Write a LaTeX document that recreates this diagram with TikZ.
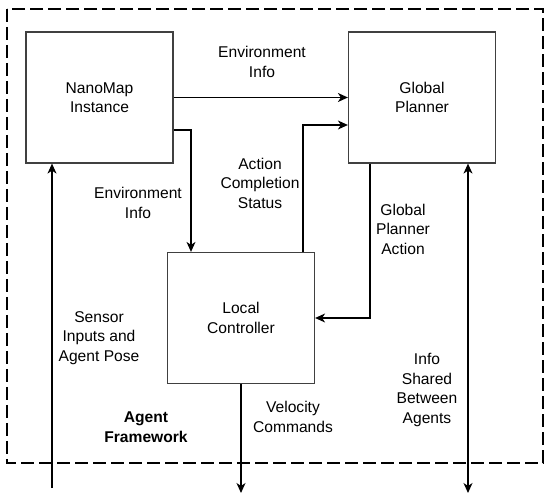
\documentclass[tikz,border=0pt]{standalone}
\usepackage{fontspec}
\setmainfont{Liberation Sans}
\usetikzlibrary{arrows.meta}

\tikzset{
    block/.style={draw=black!75, line width=1.2pt, minimum width=147pt, minimum height=131pt, align=center, inner sep=0pt},
    flow/.style={draw, line width=1.2pt, -{Stealth[length=10pt, width=9pt, inset=3pt]}},
    both/.style={draw, line width=1.2pt, {Stealth[length=10pt, width=9pt, inset=3pt]}-{Stealth[length=10pt, width=9pt, inset=3pt]}},
    lbl/.style={align=center, inner sep=0pt},
}

\begin{document}
\begin{tikzpicture}[x=1pt, y=-1pt, font=\fontsize{15.6}{19.5}\selectfont]
    \useasboundingbox (0, 0) rectangle (550, 500);

    \coordinate (S) at (52, 488);
    \coordinate (V) at (241, 493);
    \coordinate (I) at (468, 493);

    \draw [line width=2.6pt, dash pattern=on 13pt off 5pt] (7, 9) rectangle (543, 463);

    \node [block] (nano) at (99.5, 97.5) {NanoMap\\Instance};
    \node [block] (glob) at (422, 97.5) {Global\\Planner};
    \node [block] (local) at (241, 318) {Local\\Controller};

    \draw [flow] (nano.east) -- (glob.west);
    \draw [flow] ([yshift=-32.5pt]nano.east) -| ([xshift=-50pt]local.north);
    \draw [flow] ([xshift=62pt]local.north) |- ([yshift=-27.5pt]glob.west);
    \draw [flow] ([xshift=-52pt]glob.south) |- (local.east);
    \draw [flow] (S) -- (S |- nano.south);
    \draw [flow] (local.south) -- (V);
    \draw [both] (I |- glob.south) -- (I);

    \node [lbl] (envtop) at (262, 62) {Environment\\Info};
    \node [lbl] (envleft) at (138, 203) {Environment\\Info};
    \node [lbl] (status) at (260, 183) {Action\\Completion\\Status};
    \node [lbl] (gpact) at (403, 229) {Global\\Planner\\Action};
    \node [lbl] (sensor) at (99, 338) {Sensor\\Inputs and\\Agent Pose};
    \node [lbl, font=\fontsize{15.6}{19.5}\selectfont\bfseries] (frame) at (146, 427) {Agent\\Framework};
    \node [lbl] (vel) at (293, 417) {Velocity\\Commands};
    \node [lbl] (shared) at (427, 390) {Info\\Shared\\Between\\Agents};
\end{tikzpicture}
\end{document}
